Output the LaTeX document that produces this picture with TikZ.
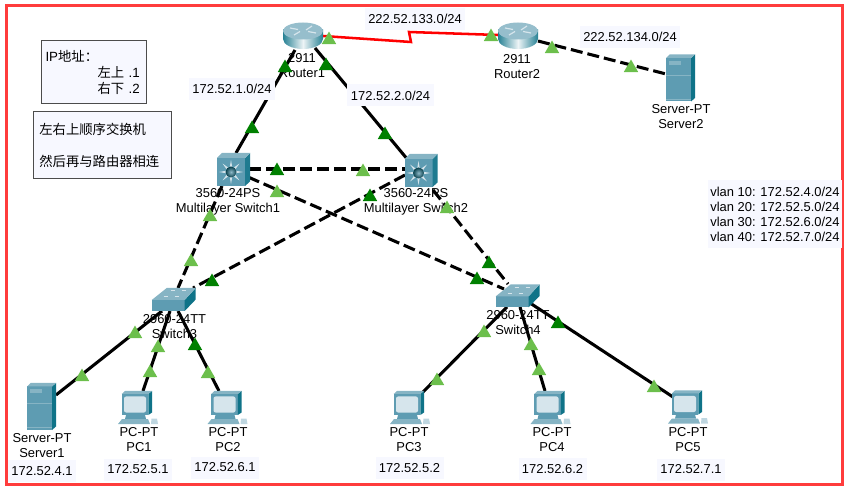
\documentclass[tikz,border=0pt]{standalone}
\usepackage{fontspec}
\setmainfont{Liberation Sans}
\newfontfamily\cjk{Noto Sans CJK SC}
\usetikzlibrary{shapes.geometric}
\definecolor{teal1}{HTML}{5E9CB2}
\definecolor{teal2}{HTML}{0F7388}
\definecolor{teal3}{HTML}{86B4C4}
\definecolor{screen}{HTML}{D6E5EC}
\definecolor{notebg}{HTML}{F7F8FF}
\definecolor{frameRed}{HTML}{FF3C3C}
\definecolor{liteGreen}{HTML}{6CBF4C}
\definecolor{darkGreen}{HTML}{008000}
\tikzset{
  devbox/.style={inner sep=0pt,minimum size=18pt},
  devtext/.style={align=center,inner sep=0pt,font=\fontsize{9.7}{11.25}\selectfont},
  ipnote/.style={fill=notebg,inner sep=0pt,minimum width=51pt,minimum height=16.5pt,font=\fontsize{9.7}{11.25}\selectfont},
  netnote/.style={fill=notebg,inner sep=0pt,minimum height=16.5pt,font=\fontsize{9.7}{11.25}\selectfont},
  textbox/.style={draw=black!70,line width=.75pt,fill=notebg,inner sep=0pt,align=left,font=\fontsize{10}{12}\selectfont},
  solidlink/.style={line width=2.3pt},
  dashlink/.style={line width=2.3pt,dash pattern=on 9pt off 3.75pt},
  litetri/.style={regular polygon,regular polygon sides=3,fill=liteGreen,inner sep=0pt,minimum size=12.5pt,yshift=-1.4pt},
  darktri/.style={litetri,fill=darkGreen},
  routericon/.pic={
    \path[left color=teal2!90,right color=teal2!90,middle color=white!85!teal3]
      (-20,-6.5)--(-20,3) arc[start angle=180,end angle=0,x radius=20,y radius=10]--(20,-6.5)--cycle;
    \fill[teal3!80!screen] (0,-5) ellipse[x radius=20,y radius=8.5];
    \draw[screen,line width=.9pt] (-13,-8)--(-5,-6.5) (13,-3)--(5,-4.5) (-9,-1)--(-3,-4.5) (9,-10)--(3,-6);
  },
  servericon/.pic={
    \fill[teal1] (-14.5,-20)--(10.5,-20)--(10.5,23.5)--(-14.5,23.5)--cycle;
    \fill[teal2] (10.5,-20)--(14.5,-23.5)--(14.5,20)--(10.5,23.5)--cycle;
    \fill[teal3] (-14.5,-20)--(-11,-23.5)--(14.5,-23.5)--(10.5,-20)--cycle;
    \fill[teal3] (-12,-17)--(0,-17)--(0,-13)--(-12,-13)--cycle;
    \draw[teal3,line width=.5pt] (-14.5,-3)--(10.5,-3) (-14.5,21)--(10.5,21);
  },
  mlsicon/.pic={
    \fill[teal1] (-16.5,-11.5)--(11.5,-11.5)--(11.5,16.5)--(-16.5,16.5)--cycle;
    \fill[teal2!80!teal1] (11.5,-11.5)--(16.5,-16.5)--(16.5,12)--(11.5,16.5)--cycle;
    \fill[teal3] (-16.5,-11.5)--(-11.5,-16.5)--(16.5,-16.5)--(11.5,-11.5)--cycle;
    \foreach \a in {0,45,...,315}
      \fill[screen] ([shift={(-2.5,2.5)}]\a-14:5)--([shift={(-2.5,2.5)}]\a:12)--([shift={(-2.5,2.5)}]\a+14:5)--cycle;
    \shade[inner color=teal1!70!white,outer color=black!45!teal2] (-2.5,2.5) circle[radius=5.5];
  },
  switchicon/.pic={
    \fill[teal1] (-22,.5)--(11,.5)--(11,11.5)--(-22,11.5)--cycle;
    \fill[teal2] (11,.5)--(22,-11.5)--(22,0)--(11,11.5)--cycle;
    \fill[teal3] (-22,.5)--(-7,-11.5)--(22,-11.5)--(11,.5)--cycle;
    \draw[screen,line width=.7pt] (-3,-9)--(1,-9) (8,-9)--(12,-9) (-10,-3)--(-6,-3) (1,-3)--(5,-3);
  },
  pcicon/.pic={
    \fill[teal1] (-16.3,-13.5)--(10.3,-13.5)--(10.3,7.5)--(-16.3,7.5)--cycle;
    \fill[teal2] (10.3,-13.5)--(14,-16.5)--(14,5)--(10.3,7.5)--cycle;
    \fill[teal3] (-16.3,-13.5)--(-13,-16.5)--(14,-16.5)--(10.3,-13.5)--cycle;
    \fill[screen,rounded corners=1.5pt] (-14,-11)--(8,-11)--(8,5)--(-14,5)--cycle;
    \fill[teal1] (-12,7.5)--(7,7.5)--(8,11.5)--(-13,11.5)--cycle;
    \fill[teal3] (-16,11.5)--(10,11.5)--(12,16.5)--(-20,16.5)--cycle;
    \fill[screen!80!teal1] (13.5,11)--(19,11)--(20,16.5)--(13,16.5)--cycle;
  },
}
\begin{document}
\begin{tikzpicture}[x=.75pt,y=-.75pt]
  \useasboundingbox (0,0) rectangle (860,491);
  \node[draw=frameRed,line width=2.25pt,inner sep=0pt,minimum width=627pt,minimum height=359.25pt] (frame) at (424.5,245) {};
  % devices
  \node[devbox] (r1) at (303,36) {};
  \node[devbox] (r2) at (518,36) {};
  \node[devbox] (srv2) at (680.5,78) {};
  \node[devbox] (ms1) at (233.5,169.5) {};
  \node[devbox] (ms2) at (421,170.5) {};
  \node[devbox] (sw3) at (173.7,299.5) {};
  \node[devbox] (sw4) at (517.5,296) {};
  \node[devbox] (srv1) at (41.5,406.5) {};
  \node[devbox] (pc1) at (138,407.5) {};
  \node[devbox] (pc2) at (227.5,407.5) {};
  \node[devbox] (pc3) at (410,407.5) {};
  \node[devbox] (pc4) at (550.5,407.5) {};
  \node[devbox] (pc5) at (688,407) {};
  \coordinate (kinka) at (411,42);
  \coordinate (kinkb) at (409,32);
  % links
  \draw[red,line width=1.9pt] ([shift={(20,0)}]r1.center)--(kinka)--(kinkb)--([shift={(-20,-1)}]r2.center);
  \draw[solidlink] ([shift={(-8,14)}]r1.center)--([shift={(2.5,-16.5)}]ms1.center);
  \draw[solidlink] ([shift={(12,12)}]r1.center)--([shift={(-13,-10.5)}]ms2.center);
  \draw[dashlink] ([shift={(20,5)}]r2.center)--([shift={(-14.5,-4)}]srv2.center);
  \draw[dashlink] ([shift={(15.5,-.5)}]ms1.center)--([shift={(-16,-1.5)}]ms2.center);
  \draw[dashlink] ([shift={(14.5,7.5)}]ms1.center)--([shift={(-13.5,-7)}]sw4.center);
  \draw[dashlink] ([shift={(-16,4.5)}]ms2.center)--([shift={(19.3,-11.5)}]sw3.center);
  \draw[dashlink] ([shift={(-11.5,16.5)}]ms1.center)--([shift={(4.3,-11.5)}]sw3.center);
  \draw[dashlink] ([shift={(12,19.5)}]ms2.center)--([shift={(-9.5,-12)}]sw4.center);
  \draw[solidlink] ([shift={(-11.7,11.5)}]sw3.center)--([shift={(14.5,-11.5)}]srv1.center);
  \draw[solidlink] ([shift={(-3.7,11.5)}]sw3.center)--([shift={(5,-16.5)}]pc1.center);
  \draw[solidlink] ([shift={(4.3,11.5)}]sw3.center)--([shift={(-8.5,-16.5)}]pc2.center);
  \draw[solidlink] ([shift={(-10.5,11)}]sw4.center)--([shift={(13,-15.5)}]pc3.center);
  \draw[solidlink] ([shift={(2.5,11)}]sw4.center)--([shift={(-5.5,-16.5)}]pc4.center);
  \draw[solidlink] ([shift={(12.5,7)}]sw4.center)--([shift={(-15,-10)}]pc5.center);
  % icons
  \foreach \name in {r1,r2} \pic at (\name) {routericon};
  \foreach \name in {srv1,srv2} \pic at (\name) {servericon};
  \foreach \name in {ms1,ms2} \pic at (\name) {mlsicon};
  \foreach \name in {sw3,sw4} \pic at (\name) {switchicon};
  \foreach \name in {pc1,pc2,pc3,pc4,pc5} \pic at (\name) {pcicon};
  % device labels
  \node[devtext] (r1t) at (302,66) {2911\\Router1};
  \node[devtext] (r2t) at (517,66.5) {2911\\Router2};
  \node[devtext] (srv2t) at (681,117) {Server-PT\\Server2};
  \node[devtext] (ms1t) at (228,201.5) {3560-24PS\\Multilayer Switch1};
  \node[devtext] (ms2t) at (416,202) {3560-24PS\\Multilayer Switch2};
  \node[devtext] (sw3t) at (174.5,326.5) {2960-24TT\\Switch3};
  \node[devtext] (sw4t) at (518,322.5) {2960-24TT\\Switch4};
  \node[devtext] (srv1t) at (42,445.5) {Server-PT\\Server1};
  \node[devtext] (pc1t) at (139,440) {PC-PT\\PC1};
  \node[devtext] (pc2t) at (228,440) {PC-PT\\PC2};
  \node[devtext] (pc3t) at (409,440) {PC-PT\\PC3};
  \node[devtext] (pc4t) at (552,440) {PC-PT\\PC4};
  \node[devtext] (pc5t) at (688,439.5) {PC-PT\\PC5};
  % address notes
  \node[ipnote] (ip1) at (42,471) {172.52.4.1};
  \node[ipnote] (ip2) at (138,469.5) {172.52.5.1};
  \node[ipnote] (ip3) at (225,467.5) {172.52.6.1};
  \node[ipnote] (ip4) at (409.5,468) {172.52.5.2};
  \node[ipnote] (ip5) at (552.5,469) {172.52.6.2};
  \node[ipnote] (ip6) at (691,469.5) {172.52.7.1};
  \node[netnote,minimum width=64.5pt] (net1) at (232,89) {172.52.1.0/24};
  \node[netnote,minimum width=65pt] (net2) at (390.5,95.5) {172.52.2.0/24};
  \node[netnote,minimum width=75pt] (net3) at (415,19) {222.52.133.0/24};
  \node[netnote,minimum width=75pt] (net4) at (630,37) {222.52.134.0/24};
  \node[fill=notebg,inner sep=0pt,minimum width=100pt,minimum height=51pt,align=left,
    font=\fontsize{9.7}{11.25}\selectfont] (vlan) at (775,214) {vlan 10: 172.52.4.0/24\\vlan 20: 172.52.5.0/24\\vlan 30: 172.52.6.0/24\\vlan 40: 172.52.7.0/24};
  % text boxes
  \node[textbox,minimum width=78.75pt,minimum height=47.25pt,text width=72pt] (ipbox) at (93.5,72.5)
    {IP{\cjk 地址：}\\\hspace*{39pt}{\cjk 左上} .1\\\hspace*{39pt}{\cjk 右下} .2};
  \node[textbox,minimum width=103.5pt,minimum height=50.25pt,text width=94pt] (orderbox) at (102,145.5)
    {\cjk 左右上顺序交换机\\[12pt]然后再与路由器相连};
  % port lights
  \foreach \x/\y [count=\i] in {329/38,491/35,552/47,631/66,363/170,277/191,210/215,191/260,447/207,135/332,82/375,158/346,150/371,208/372,484/331,437/379,531/344,539/369,654/386}
    \node[litetri] (lt\i) at (\x,\y) {};
  \foreach \x/\y [count=\i] in {285/66,252/127,326/64,385/133,277/169,477/278,370/195,212/280,489/262,195/344,558/322}
    \node[darktri] (dt\i) at (\x,\y) {};
\end{tikzpicture}
\end{document}
